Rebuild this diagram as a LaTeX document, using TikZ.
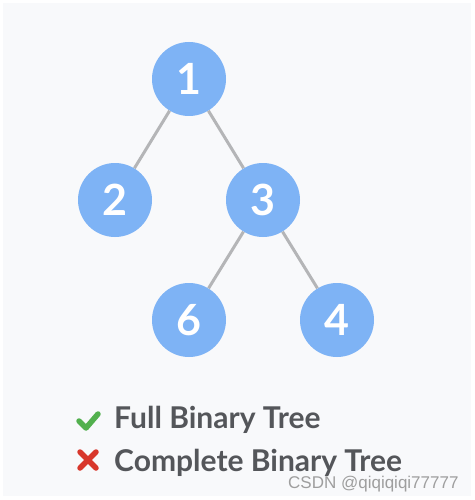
\documentclass[tikz,border=0pt]{standalone}
\usepackage{fontspec}
\setmainfont{Lato}
\newfontfamily\markfont{Liberation Sans}
\usetikzlibrary{positioning}
\definecolor{nodeblue}{HTML}{7EB3F5}
\definecolor{edgegray}{HTML}{B4B5B7}
\definecolor{textgray}{HTML}{54565A}
\definecolor{bggray}{HTML}{F8F9FB}
\definecolor{okgreen}{HTML}{52B04E}
\definecolor{nored}{HTML}{D8372C}

\begin{document}
\begin{tikzpicture}[x=1pt,y=-1pt,
	vertex/.style={circle,fill=nodeblue,minimum size=74pt,inner sep=0pt,text=white,font=\bfseries\fontsize{43}{43}\selectfont},
	edge/.style={draw=edgegray,line width=3pt},
	caption/.style={anchor=base west,inner sep=0pt,text=textgray,font=\bfseries\fontsize{30}{30}\selectfont},
	sign/.style={line width=5.5pt,line cap=round,line join=round}]
	\useasboundingbox (0,0) rectangle (474,500);
	\fill[bggray] (3,3) rectangle (471,496);
	% tree
	\foreach \v/\x/\y in {1/189/79, 2/115/200, 3/263/200, 6/189/320, 4/337/320}
		\node[vertex] (N\v) at (\x,\y) {\v};
	\foreach \a/\b in {1/2, 1/3, 3/6, 3/4}
		\draw[edge] (N\a) -- (N\b);
	% legend
	\node[caption] (full) at (114,428) {Full Binary Tree};
	\node[caption] (complete) at (114,471) {Complete Binary Tree};
	\draw[sign,okgreen] (79,421) -- (86,428) -- (98,414);
	\draw[sign,nored] (80,452) -- (96,468) (80,468) -- (96,452);
	\node[anchor=base west,inner sep=0pt,text=black!38,font=\markfont\fontsize{17}{17}\selectfont] (mark) at (288,488) {CSDN @qiqiqiqi77777};
\end{tikzpicture}
\end{document}
